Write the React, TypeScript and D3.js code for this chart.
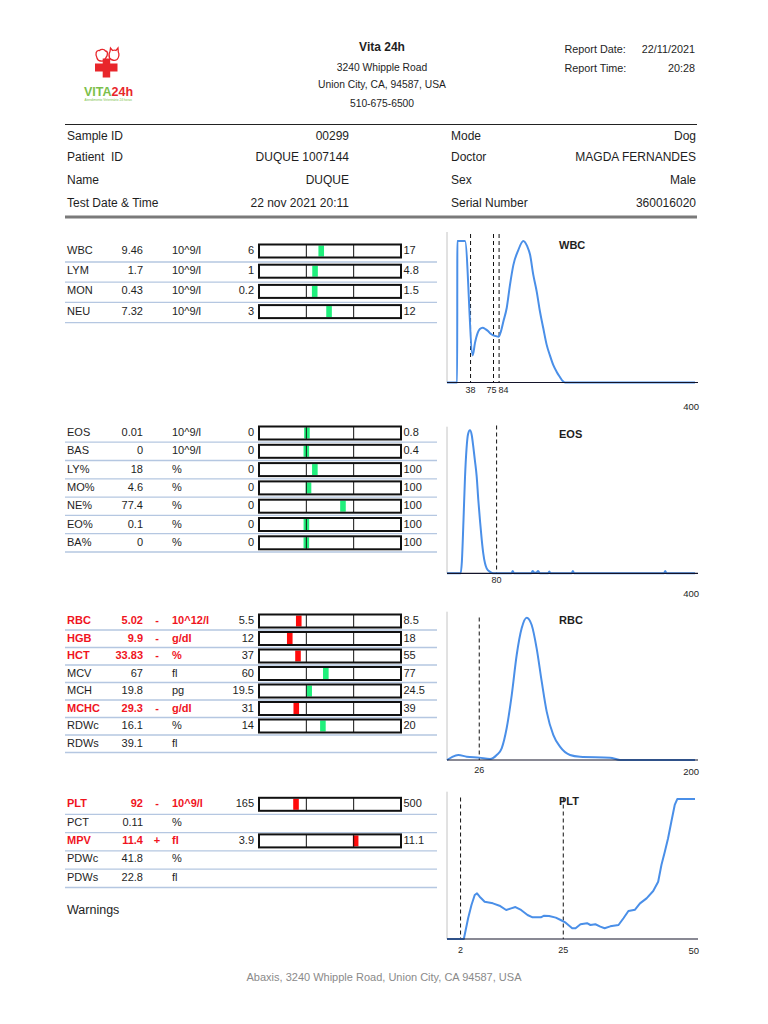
import React from "react";
import * as d3 from "d3";

// ---------- Header data ----------
const CLINIC_NAME = "Vita 24h";
const CLINIC_LINES = ["3240 Whipple Road", "Union City, CA, 94587, USA", "510-675-6500"];
const REPORT_LABELS = ["Report Date:", "Report Time:"];
const REPORT_VALUES = ["22/11/2021", "20:28"];

const INFO_LEFT_LABELS = ["Sample ID", "Patient\u00A0 ID", "Name", "Test Date & Time"];
const INFO_LEFT_VALUES = ["00299", "DUQUE 1007144", "DUQUE", "22 nov 2021 20:11"];
const INFO_RIGHT_LABELS = ["Mode", "Doctor", "Sex", "Serial Number"];
const INFO_RIGHT_VALUES = ["Dog", "MAGDA FERNANDES", "Male", "360016020"];

// ---------- Parameter groups ----------
const G1_NAMES = ["WBC", "LYM", "MON", "NEU"];
const G1_VALUES = [9.46, 1.7, 0.43, 7.32];
const G1_FLAGS = ["", "", "", ""];
const G1_UNITS = ["10^9/l", "10^9/l", "10^9/l", "10^9/l"];
const G1_LOW = [6, 1, 0.2, 3];
const G1_HIGH = [17, 4.8, 1.5, 12];

const G2_NAMES = ["EOS", "BAS", "LY%", "MO%", "NE%", "EO%", "BA%"];
const G2_VALUES = [0.01, 0, 18, 4.6, 77.4, 0.1, 0];
const G2_FLAGS = ["", "", "", "", "", "", ""];
const G2_UNITS = ["10^9/l", "10^9/l", "%", "%", "%", "%", "%"];
const G2_LOW = [0, 0, 0, 0, 0, 0, 0];
const G2_HIGH = [0.8, 0.4, 100, 100, 100, 100, 100];

const G3_NAMES = ["RBC", "HGB", "HCT", "MCV", "MCH", "MCHC", "RDWc", "RDWs"];
const G3_VALUES = [5.02, 9.9, 33.83, 67, 19.8, 29.3, 16.1, 39.1];
const G3_FLAGS = ["-", "-", "-", "", "", "-", "", ""];
const G3_UNITS = ["10^12/l", "g/dl", "%", "fl", "pg", "g/dl", "%", "fl"];
const G3_LOW = [5.5, 12, 37, 60, 19.5, 31, 14, null];
const G3_HIGH = [8.5, 18, 55, 77, 24.5, 39, 20, null];

const G4_NAMES = ["PLT", "PCT", "MPV", "PDWc", "PDWs"];
const G4_VALUES = [92, 0.11, 11.4, 41.8, 22.8];
const G4_FLAGS = ["-", "", "+", "", ""];
const G4_UNITS = ["10^9/l", "%", "fl", "%", "fl"];
const G4_LOW = [165, null, 3.9, null, null];
const G4_HIGH = [500, null, 11.1, null, null];

// ---------- Histogram data ----------
const WBC_CURVE: [number, number][] = [
  [0, 0], [16.4, 0], [16.7, 94], [29, 94], [41.5, 18], [45, 26], [49.5, 33], [53, 35.5], [57.6, 36.4],
  [62, 35.5], [66.6, 34], [70, 32.5], [74.7, 31.3], [79, 30.8], [83.4, 30.4], [87, 34], [90.8, 40.4],
  [96.3, 49.5], [101.6, 64.9], [107, 78], [115, 88], [123, 94], [129.5, 90.4], [133.9, 85],
  [139.2, 71.5], [144.7, 60.4], [150, 47], [155.3, 36], [160.8, 25], [166, 18], [171.5, 11.5],
  [177, 7], [182.3, 3.5], [186, 1.2], [190.3, 0], [400, 0],
];
const WBC_MARKS = [38, 75, 84];
const WBC_DOMAIN = [0, 400];
const WBC_END = "400";

const EOS_CURVE: [number, number][] = [
  [0, 0], [22, 0], [24, 8], [26.5, 35], [29, 65], [31.5, 85], [34, 95], [37, 97.5], [40, 94],
  [42.5, 86], [45, 77], [47.9, 66], [50.5, 50], [53.2, 36], [56, 23], [58.5, 13.6], [61.3, 6.8],
  [64, 3.4], [69.4, 1], [74.7, 0], [104, 0], [106, 1.5], [108, 0], [136, 0], [138, 1.5], [141, 0.4],
  [144, 0.4], [147, 1.5], [150, 0], [163, 0], [165, 1.3], [167, 0], [201, 0], [203, 1.5], [205, 0],
  [350, 0], [352, 1.5], [354, 0], [400, 0],
];
const EOS_MARKS = [80];
const EOS_DOMAIN = [0, 400];
const EOS_END = "400";

const RBC_CURVE: [number, number][] = [
  [0, 0], [4, 2], [9.1, 3.4], [15.9, 2.2], [26, 1.6], [34.7, 0.7], [40.1, 3.4], [44.1, 7.9],
  [48.1, 21.4], [52.2, 43.8], [56.2, 70.8], [60.2, 88.8], [64.3, 96], [68.3, 91], [72.3, 75.3],
  [76.4, 52.8], [80.4, 32.6], [85.7, 16.9], [91.1, 9], [99.2, 3.4], [107.3, 2.2], [131.5, 1.6],
  [139.5, 0], [200, 0],
];
const RBC_MARKS = [26];
const RBC_DOMAIN = [0, 200];
const RBC_END = "200";

const PLT_CURVE: [number, number][] = [
  [-1.04, 0], [2.73, 0], [3.69, 14.1], [4.44, 23.1], [5.17, 29.9], [5.68, 31], [6.28, 28.7],
  [7.39, 25.3], [9.24, 24.2], [10.72, 22.6], [12.21, 19.7], [13.32, 20.8], [14.28, 21.7],
  [15.54, 19.7], [17, 16.3], [18.12, 14.7], [19.98, 14.7], [20.71, 15.8], [21.83, 15.6],
  [23.31, 14.5], [24.42, 12.9], [25.53, 11.1], [27, 7.3], [27.75, 7.3], [28.86, 10], [30.33, 10.7],
  [31.08, 9.5], [32.19, 10], [33.3, 8.4], [34.26, 7.3], [35.52, 8.6], [37.37, 9.5], [38.48, 14.1],
  [39.59, 19], [41.07, 19.9], [42.18, 24.2], [43.65, 27.6], [45.14, 32.6], [46.25, 38.9],
  [46.98, 50.2], [47.74, 59.3], [48.47, 68.4], [49.2, 79.6], [49.96, 91], [50.53, 95], [54.5, 95],
];
const PLT_MARKS = [2, 25];
const PLT_DOMAIN = [-1.04, 54.5];
const PLT_END = "50";

const FOOTER = "Abaxis, 3240 Whipple Road, Union City, CA 94587, USA";

// ---------- Style ----------
const FONT = "'Liberation Sans', Arial, Helvetica, sans-serif";
const TXT = "#1e1e1e";
const RED_TXT = "#f0141e";
const RED_MARK = "#ff0a0a";
const GREEN_MARK = "#20f07c";
const SEP = "#b5c7e1";
const BLUE = "#4a8fe8";

const NAME_X = 67;
const VALUE_RX = 143;
const FLAG_CX = 157;
const UNIT_X = 172;
const LOW_RX = 254;
const BOX_X0 = 259;
const BOX_X1 = 401;
const HIGH_X = 403.5;
const SEP_X0 = 65;
const SEP_X1 = 437;

const boxThird = (BOX_X1 - BOX_X0) / 3;

type Group = {
  names: string[]; values: number[]; flags: string[]; units: string[];
  low: (number | null)[]; high: (number | null)[];
  y0: number; dy: number; sepOff: number;
};

const GROUPS: Group[] = [
  { names: G1_NAMES, values: G1_VALUES, flags: G1_FLAGS, units: G1_UNITS, low: G1_LOW, high: G1_HIGH, y0: 250, dy: 20.2, sepOff: 12 },
  { names: G2_NAMES, values: G2_VALUES, flags: G2_FLAGS, units: G2_UNITS, low: G2_LOW, high: G2_HIGH, y0: 432, dy: 18.3, sepOff: 10.2 },
  { names: G3_NAMES, values: G3_VALUES, flags: G3_FLAGS, units: G3_UNITS, low: G3_LOW, high: G3_HIGH, y0: 620, dy: 17.5, sepOff: 10 },
  { names: G4_NAMES, values: G4_VALUES, flags: G4_FLAGS, units: G4_UNITS, low: G4_LOW, high: G4_HIGH, y0: 803.3, dy: 18.3, sepOff: 11 },
];

function ParamGroup({ g }: { g: Group }) {
  return (
    <g>
      {g.names.map((name, i) => {
        const cy = g.y0 + i * g.dy;
        const flagged = g.flags[i] !== "";
        const col = flagged ? RED_TXT : TXT;
        const fw = flagged ? "bold" : "normal";
        const lo = g.low[i];
        const hi = g.high[i];
        let bar = null;
        if (lo !== null && hi !== null) {
          const sx = d3.scaleLinear().domain([lo, hi]).range([BOX_X0 + boxThird, BOX_X0 + 2 * boxThird]);
          const mx = sx(g.values[i]);
          const top = cy - 5.5;
          const h = 13;
          bar = (
            <g>
              <text x={LOW_RX} y={cy} textAnchor="end" dominantBaseline="central" fontSize={11} fill={TXT}>{String(lo)}</text>
              <text x={HIGH_X} y={cy} dominantBaseline="central" fontSize={11} fill={TXT}>{String(hi)}</text>
              <rect x={mx - 2.8} y={top + 1} width={5.6} height={h - 2} fill={flagged ? RED_MARK : GREEN_MARK} />
              <line x1={BOX_X0 + boxThird} x2={BOX_X0 + boxThird} y1={top} y2={top + h} stroke="#111" strokeWidth={1} />
              <line x1={BOX_X0 + 2 * boxThird} x2={BOX_X0 + 2 * boxThird} y1={top} y2={top + h} stroke="#111" strokeWidth={1} />
              <rect x={BOX_X0} y={top} width={BOX_X1 - BOX_X0} height={h} fill="none" stroke="#111" strokeWidth={2} />
            </g>
          );
        }
        return (
          <g key={name}>
            <text x={NAME_X} y={cy} dominantBaseline="central" fontSize={11} fill={col} fontWeight={fw}>{name}</text>
            <text x={VALUE_RX} y={cy} textAnchor="end" dominantBaseline="central" fontSize={11} fill={col} fontWeight={fw}>{String(g.values[i])}</text>
            {flagged && (
              <text x={FLAG_CX} y={cy} textAnchor="middle" dominantBaseline="central" fontSize={11} fill={col} fontWeight={fw}>{g.flags[i]}</text>
            )}
            <text x={UNIT_X} y={cy} dominantBaseline="central" fontSize={11} fill={col} fontWeight={fw}>{g.units[i]}</text>
            {bar}
            <line x1={SEP_X0} x2={SEP_X1} y1={cy + g.sepOff} y2={cy + g.sepOff} stroke={SEP} strokeWidth={1.3} />
          </g>
        );
      })}
    </g>
  );
}

type Chart = {
  title: string; curve: [number, number][]; marks: number[]; domain: number[]; end: string;
  top: number; base: number; dashTop: number; tickY: number; endY: number; titleY: number;
  smooth: boolean;
};

const CH_X0 = 447;
const CH_X1 = 695;
const AXIS_END = 698;

const CHARTS: Chart[] = [
  { title: "WBC", curve: WBC_CURVE, marks: WBC_MARKS, domain: WBC_DOMAIN, end: WBC_END, top: 232, base: 382.5, dashTop: 234, tickY: 389.5, endY: 406.5, titleY: 245, smooth: true },
  { title: "EOS", curve: EOS_CURVE, marks: EOS_MARKS, domain: EOS_DOMAIN, end: EOS_END, top: 426.7, base: 573.3, dashTop: 425.5, tickY: 579.5, endY: 593.5, titleY: 434, smooth: true },
  { title: "RBC", curve: RBC_CURVE, marks: RBC_MARKS, domain: RBC_DOMAIN, end: RBC_END, top: 611.7, base: 760, dashTop: 617.5, tickY: 769.5, endY: 771.5, titleY: 620, smooth: true },
  { title: "PLT", curve: PLT_CURVE, marks: PLT_MARKS, domain: PLT_DOMAIN, end: PLT_END, top: 791.7, base: 939, dashTop: 797.5, tickY: 950, endY: 950.5, titleY: 801, smooth: false },
];

function Histogram({ c }: { c: Chart }) {
  const x = d3.scaleLinear().domain(c.domain).range([CH_X0, CH_X1]);
  const y = d3.scaleLinear().domain([0, 100]).range([c.base, c.top]);
  const line = d3
    .line<[number, number]>()
    .x((d) => x(d[0]))
    .y((d) => y(d[1]))
    .curve(c.smooth ? d3.curveMonotoneX : d3.curveLinear);
  return (
    <g>
      <line x1={CH_X0} x2={CH_X0} y1={c.top} y2={c.base} stroke="#c4c4c4" strokeWidth={1} />
      {c.marks.map((m, i) => {
        const px = x(m);
        const nextClose = i < c.marks.length - 1 && x(c.marks[i + 1]) - px < 14;
        const prevClose = i > 0 && px - x(c.marks[i - 1]) < 14;
        const anchor = nextClose ? "end" : prevClose ? "start" : "middle";
        const tx = nextClose ? px + 3 : prevClose ? px - 0.5 : px;
        return (
          <g key={m}>
            <line x1={px} x2={px} y1={c.dashTop} y2={c.base} stroke="#111" strokeWidth={1} strokeDasharray="4,3" />
            <text x={tx} y={c.tickY} textAnchor={anchor} dominantBaseline="central" fontSize={9} fill={TXT}>{String(m)}</text>
          </g>
        );
      })}
      <path d={line(c.curve) || ""} fill="none" stroke={BLUE} strokeWidth={2} strokeLinejoin="round" />
      <line x1={CH_X0} x2={AXIS_END} y1={c.base} y2={c.base} stroke="#14142a" strokeWidth={1.2} />
      <text x={559} y={c.titleY} dominantBaseline="central" fontSize={11} fontWeight="bold" fill={TXT}>{c.title}</text>
      <text x={AXIS_END + 1} y={c.endY} textAnchor="end" dominantBaseline="central" fontSize={9.5} fill={TXT}>{c.end}</text>
    </g>
  );
}

function Logo() {
  return (
    <g>
      {/* dog head */}
      <path d="M97,58 C95,54 96,50 99.5,50.5 C101,49 104,49 105.5,51 C108,51 108,55 106,57.5 C105,60 103,61.5 101,61 C99,61 97.5,60 97,58 Z"
        fill="none" stroke="#e8262b" strokeWidth={1.3} />
      {/* cat head */}
      <path d="M109.5,58 C108.5,55 109,53 110,51.5 L110.5,48 L112.5,50.5 C114,50 115,50 116,50.5 L118,48 L118.3,52 C119.5,54 119,57.5 117,59.5 C115,61 111.5,60.5 109.5,58 Z"
        fill="none" stroke="#e8262b" strokeWidth={1.3} />
      {/* cross */}
      <path d="M102.7,58.5 H110.2 V63.5 H117.5 V71.5 H110.2 V77.5 H102.7 V71.5 H95 V63.5 H102.7 Z" fill="#e8262b" />
      <text x={84} y={95.5} fontSize={12.5} fontWeight="bold">
        <tspan fill="#7cbf4a">VITA</tspan>
        <tspan fill="#e8262b">24h</tspan>
      </text>
      <text x={84.5} y={100.5} fontSize={3.2} fill="#7cbf4a">Atendimento Veterinário 24 horas</text>
    </g>
  );
}

export default function App() {
  const infoY = [135.5, 157, 179.5, 202.5];
  return (
    <svg
      width={768}
      height={1024}
      viewBox="0 0 768 1024"
      style={{ position: "absolute", left: 0, top: 0, background: "#fff" }}
      fontFamily={FONT}
    >
      <rect x={0} y={0} width={768} height={1024} fill="#fff" />
      <Logo />
      <text x={382} y={47} textAnchor="middle" dominantBaseline="central" fontSize={12} fontWeight="bold" fill={TXT}>{CLINIC_NAME}</text>
      {CLINIC_LINES.map((t, i) => (
        <text key={t} x={382} y={[67.5, 84, 103][i]} textAnchor="middle" dominantBaseline="central" fontSize={10.3} fill={TXT}>{t}</text>
      ))}
      {REPORT_LABELS.map((t, i) => (
        <g key={t}>
          <text x={564.5} y={49 + i * 18.5} dominantBaseline="central" fontSize={10.8} fill={TXT}>{t}</text>
          <text x={695} y={49 + i * 18.5} textAnchor="end" dominantBaseline="central" fontSize={10.8} fill={TXT}>{REPORT_VALUES[i]}</text>
        </g>
      ))}

      <line x1={65} x2={697} y1={124.5} y2={124.5} stroke="#222" strokeWidth={1.2} />
      {INFO_LEFT_LABELS.map((t, i) => (
        <g key={i}>
          <text x={67} y={infoY[i]} dominantBaseline="central" fontSize={12} fill={TXT}>{t}</text>
          <text x={349} y={infoY[i]} textAnchor="end" dominantBaseline="central" fontSize={12} fill={TXT}>{INFO_LEFT_VALUES[i]}</text>
          <text x={451} y={infoY[i]} dominantBaseline="central" fontSize={12} fill={TXT}>{INFO_RIGHT_LABELS[i]}</text>
          <text x={696} y={infoY[i]} textAnchor="end" dominantBaseline="central" fontSize={12} fill={TXT}>{INFO_RIGHT_VALUES[i]}</text>
        </g>
      ))}
      <line x1={65} x2={697} y1={217} y2={217} stroke="#7a7a7a" strokeWidth={3} />

      {GROUPS.map((g, i) => (
        <ParamGroup key={i} g={g} />
      ))}

      <text x={67} y={910} dominantBaseline="central" fontSize={12.5} fill={TXT}>Warnings</text>

      {CHARTS.map((c) => (
        <Histogram key={c.title} c={c} />
      ))}

      <text x={384} y={977} textAnchor="middle" dominantBaseline="central" fontSize={11} fill="#8a8a8a">{FOOTER}</text>
    </svg>
  );
}
